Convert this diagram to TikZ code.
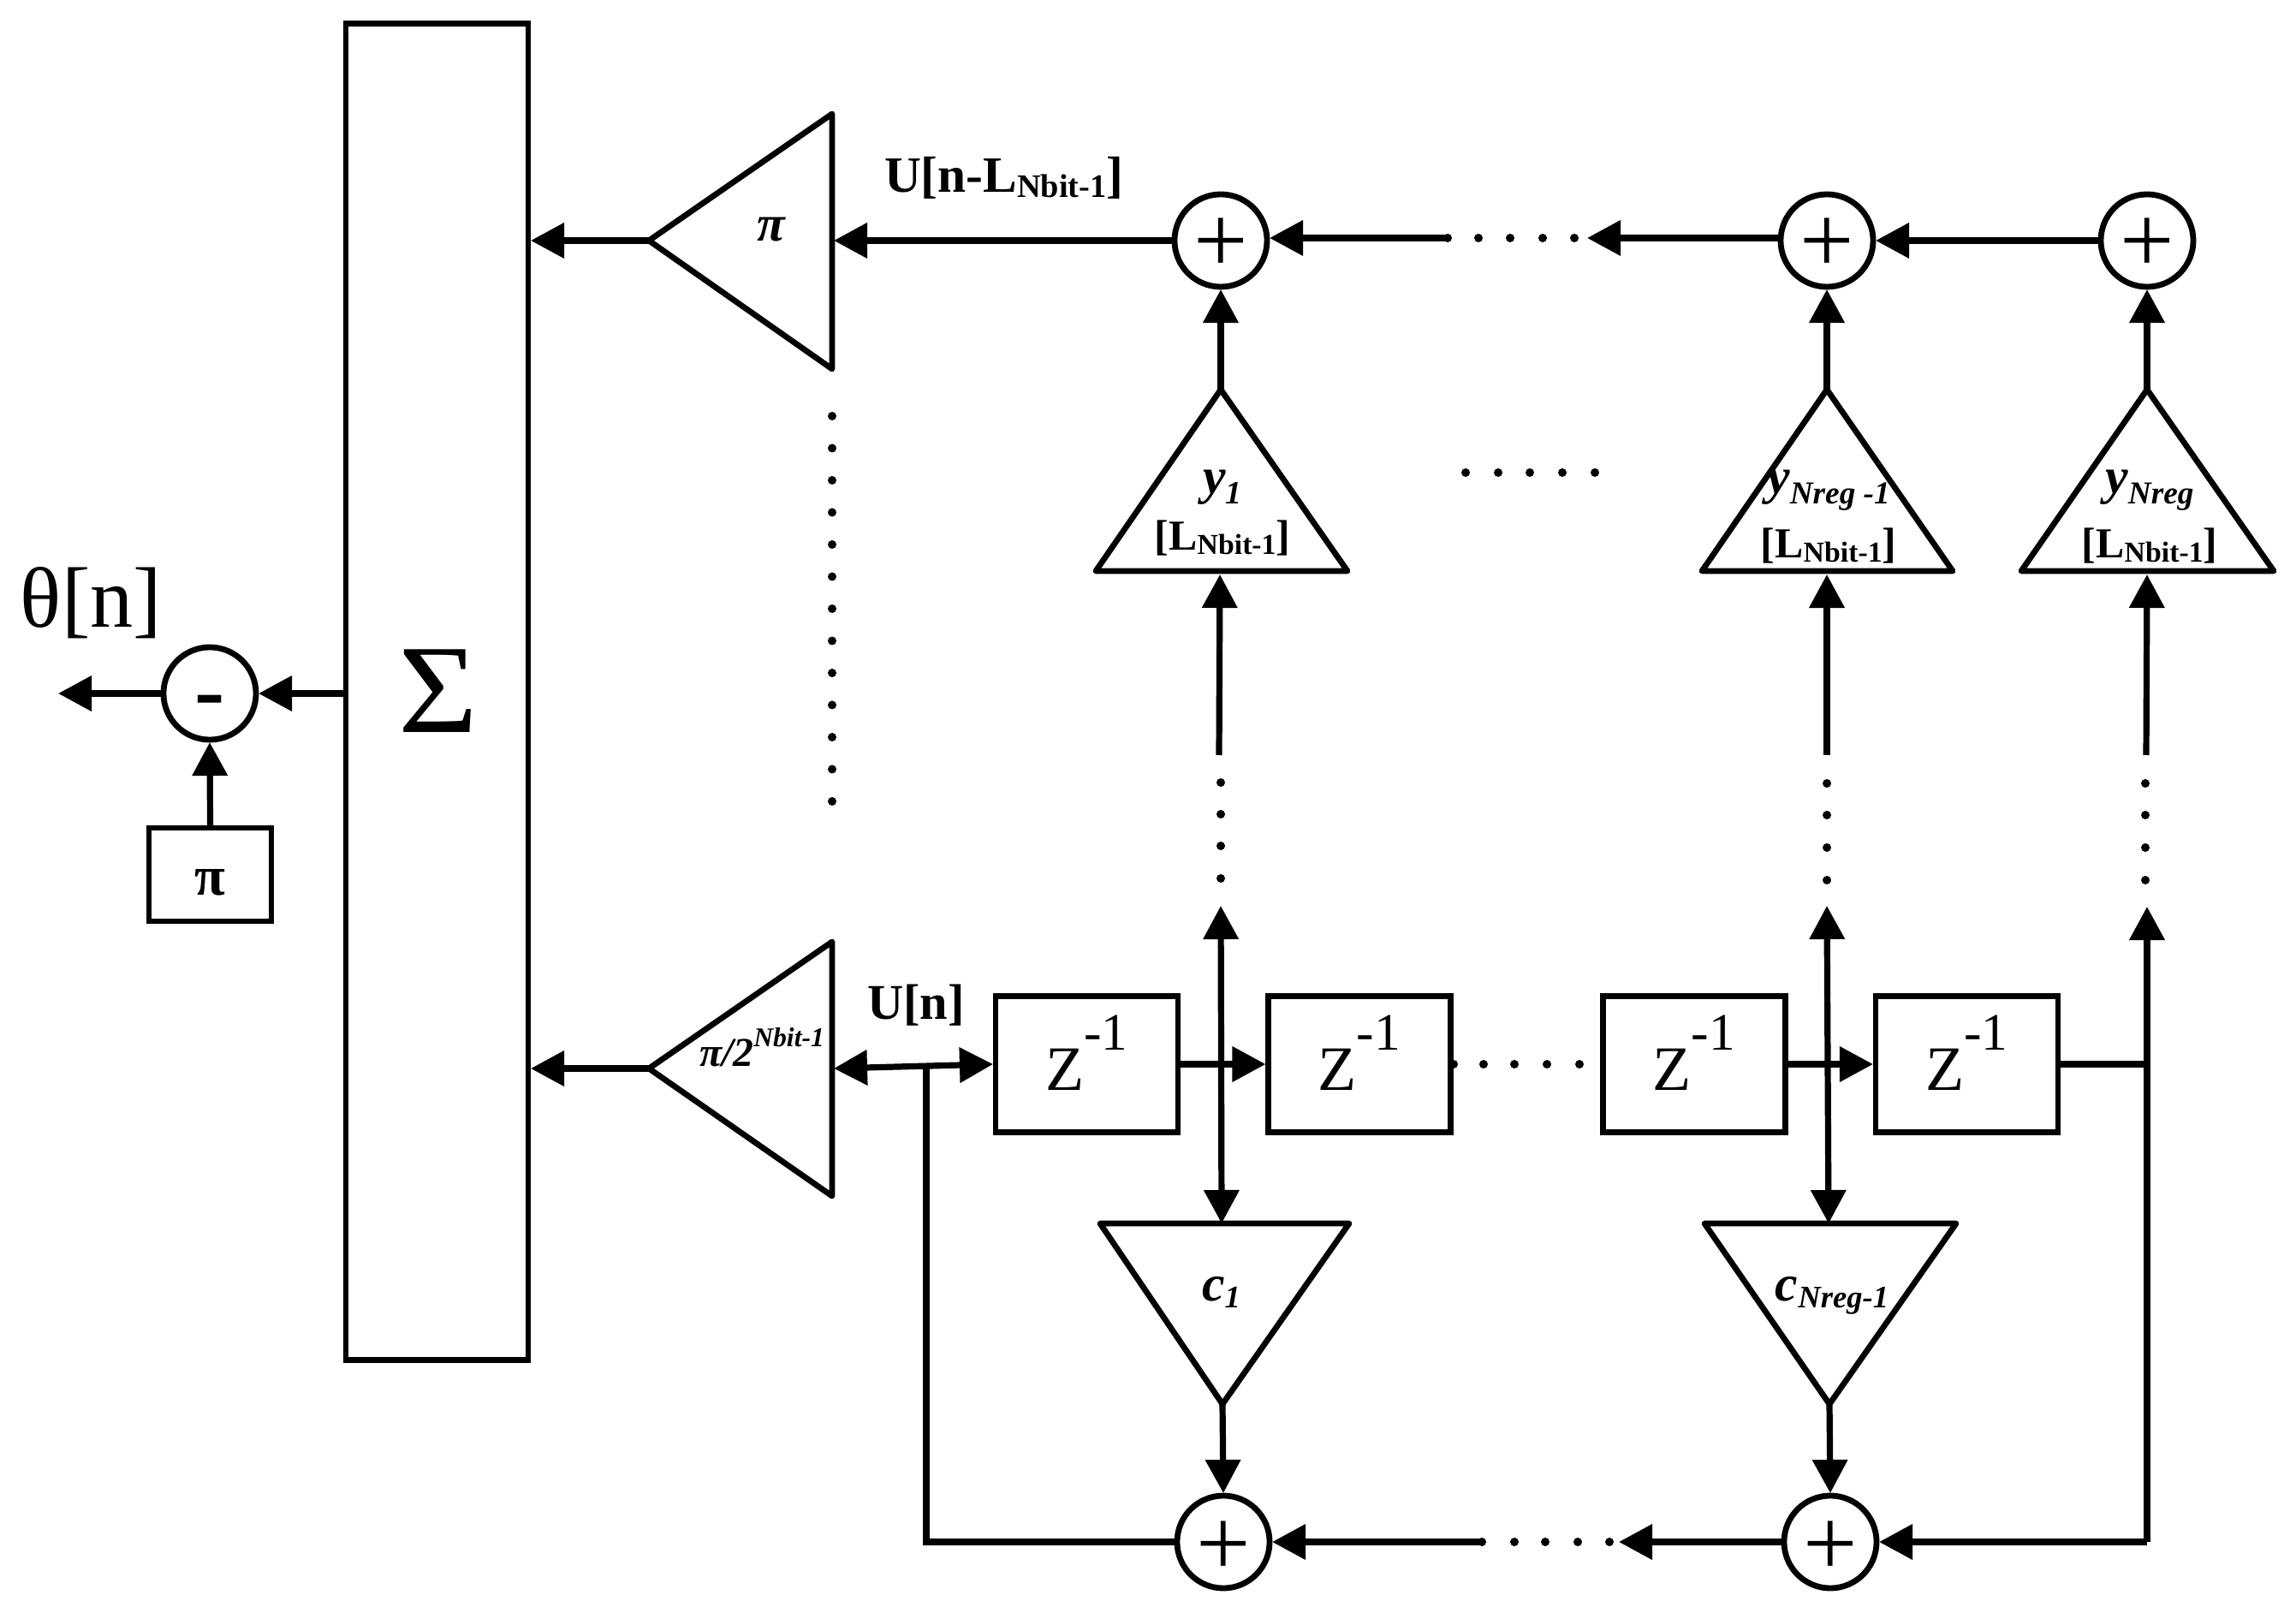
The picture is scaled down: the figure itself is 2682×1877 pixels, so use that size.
\documentclass[tikz,border=0pt]{standalone}
\usepackage{fontspec}
\setmainfont{Liberation Serif}
\usetikzlibrary{arrows.meta}
\newcommand{\fsz}[1]{\fontsize{#1}{#1}\selectfont}
\newcommand{\zlab}{\fsz{21}Z\raisebox{4.7mm}{\fsz{17.5}-1}}
\newcommand{\lnbit}{\bfseries\fsz{14.2}[L\raisebox{-.5mm}{\fsz{9.6}Nbit-1}]}
\tikzset{
  wire/.style={line width=.72mm},
  arr/.style={wire,-{Triangle[length=3.9mm,width=4mm]}},
  darr/.style={wire,{Triangle[length=3.9mm,width=4mm]}-{Triangle[length=3.9mm,width=4mm]}},
  shapeline/.style={line width=.68mm,line join=round},
  sumnode/.style={circle,draw,line width=.68mm,minimum size=10.8mm,inner sep=0,outer sep=.3mm,font=\fsz{32},text height=7.4mm,text depth=0mm},
  zbox/.style={rectangle,draw,line width=.68mm,minimum width=21.3mm,minimum height=15.9mm,inner sep=0,outer sep=.3mm,text height=9mm,text depth=2.9mm},
  lbl/.style={inner sep=0,outer sep=0},
  dotmark/.style={fill=black}
}
\begin{document}
\begin{tikzpicture}[x=.01cm,y=-.01cm]
\useasboundingbox (0,0) rectangle (2682,1877);
% large summing block
\node[rectangle,draw,line width=.68mm,minimum width=21.3mm,minimum height=156mm,inner sep=0,outer sep=.3mm,font=\fsz{42},text height=9.4mm,text depth=0mm] (sigma) at (510.5,808) {\hspace{.2mm}\scalebox{1.08}[1]{Σ}};
% minus junction and pi constant
\node[sumnode,font=\bfseries\fsz{30},text height=6.2mm] (minus) at (245,810) {-};
\node[rectangle,draw,line width=.68mm,minimum width=14.3mm,minimum height=10.9mm,inner sep=0,outer sep=.3mm,font=\bfseries\fsz{18.6},text height=4.7mm,text depth=0mm] (piconst) at (245.5,1021.5) {π};
\coordinate (theout) at (68,810);
\node[lbl,anchor=base west,font=\fsz{28.5}] (thetalab) at (24,733) {θ[n]};
% gain triangles towards the sum
\coordinate (ta) at (758,281); \coordinate (tb) at (972,133); \coordinate (tc) at (972,431); \coordinate (tin) at (974,281);
\coordinate (ba) at (758,1248); \coordinate (bb) at (972,1100); \coordinate (bc) at (972,1397); \coordinate (bin) at (974,1248);
\draw[shapeline] (ta) -- (tb) -- (tc) -- cycle;
\draw[shapeline] (ba) -- (bb) -- (bc) -- cycle;
\node[lbl,font=\bfseries\itshape\fsz{17}] (pilab) at (901,268) {π};
\node[lbl,anchor=base west,font=\bfseries\itshape\fsz{13.6}] (pilab2) at (817,1245) {π/2\raisebox{2.2mm}{\fsz{9}Nbit-1}};
% top row sums
\node[sumnode] (s1) at (1426,281) {+};
\node[sumnode] (s2) at (2134,281) {+};
\node[sumnode] (s3) at (2508,281) {+};
% y triangles
\coordinate (y1a) at (1426,455); \coordinate (y1l) at (1280,667); \coordinate (y1r) at (1574,667);
\coordinate (y2a) at (2134,455); \coordinate (y2l) at (1988,667); \coordinate (y2r) at (2281,667);
\coordinate (y3a) at (2508,455); \coordinate (y3l) at (2361,667); \coordinate (y3r) at (2656,667);
\draw[shapeline] (y1a) -- (y1l) -- (y1r) -- cycle;
\draw[shapeline] (y2a) -- (y2l) -- (y2r) -- cycle;
\draw[shapeline] (y3a) -- (y3l) -- (y3r) -- cycle;
\node[lbl,anchor=base,font=\bfseries\itshape\fsz{17}] (y1lab) at (1428,577) {y\raisebox{-1.2mm}{\fsz{10.8}1}};
\node[lbl,anchor=base,font=\bfseries\itshape\fsz{17}] (y2lab) at (2136,577) {y\raisebox{-1.2mm}{\fsz{10.6}Nreg -1}};
\node[lbl,anchor=base,font=\bfseries\itshape\fsz{17}] (y3lab) at (2511,577) {y\raisebox{-1.2mm}{\fsz{10.6}Nreg}};
\node[lbl,anchor=base] (l1lab) at (1428,643) {\lnbit};
\node[lbl,anchor=base] (l2lab) at (2136,652) {\lnbit};
\node[lbl,anchor=base] (l3lab) at (2511,652) {\lnbit};
% delay line
\node[zbox] (z1) at (1269.5,1243) {\zlab};
\node[zbox] (z2) at (1588,1243) {\zlab};
\node[zbox] (z3) at (1979,1243) {\zlab};
\node[zbox] (z4) at (2297.5,1243) {\zlab};
% c triangles
\coordinate (c1a) at (1428,1640); \coordinate (c1l) at (1285,1429); \coordinate (c1r) at (1576,1429); \coordinate (c1in) at (1427,1429);
\coordinate (c2a) at (2137,1640); \coordinate (c2l) at (1991,1429); \coordinate (c2r) at (2285,1429); \coordinate (c2in) at (2136,1429);
\draw[shapeline] (c1a) -- (c1l) -- (c1r) -- cycle;
\draw[shapeline] (c2a) -- (c2l) -- (c2r) -- cycle;
\node[lbl,anchor=base,font=\bfseries\itshape\fsz{17}] (c1lab) at (1426.5,1519) {c\raisebox{-.8mm}{\fsz{10.4}1}};
\node[lbl,anchor=base,font=\bfseries\itshape\fsz{17}] (c2lab) at (2140,1519) {c\raisebox{-.8mm}{\fsz{10.4}Nreg-1}};
% bottom sums
\node[sumnode,text height=7.8mm] (b1) at (1429,1801) {+};
\node[sumnode,text height=7.8mm] (b2) at (2138,1801) {+};
% signal labels
\node[lbl,anchor=base west,font=\bfseries\fsz{16.9}] (ulab) at (1033,225) {U[n-L\raisebox{-.6mm}{\fsz{10.9}Nbit-1}]};
\node[lbl,anchor=base west,font=\bfseries\fsz{16.6}] (unlab) at (1013,1190) {U[n]};
% helper coordinates
\coordinate (sigt) at (620,281); \coordinate (sigb) at (620,1248); \coordinate (sigm) at (404,810);
\coordinate (d1e) at (1691,278); \coordinate (d1s) at (1854,278);
\coordinate (d3e) at (1731,1801); \coordinate (d3s) at (1891,1801);
\coordinate (junc) at (1082,1245);
\coordinate (rj) at (2508,1243); \coordinate (rb) at (2508,1801); \coordinate (rt) at (2508,1059);
\coordinate (fb) at (1082,1801);
\coordinate (v1t) at (1426,1058); \coordinate (v2t) at (2134,1058);
\coordinate (u1s) at (1424,882); \coordinate (u2s) at (2134,882); \coordinate (u3s) at (2507,882);
\coordinate (u1e) at (1425,671); \coordinate (u2e) at (2134,671); \coordinate (u3e) at (2508,671);
% connectors, top
\draw[arr] (s1.west) -- (tin);
\draw[arr] (ta) -- (sigt);
\draw[arr] (ba) -- (sigb);
\draw[arr] (s3.west) -- (s2.east);
\draw[arr] (s2.west |- d1s) -- (d1s);
\draw[arr] (d1e) -- (s1.east |- d1e);
\draw[arr] (y1a) -- (s1.south);
\draw[arr] (y2a) -- (s2.south);
\draw[arr] (y3a) -- (s3.south);
\draw[arr] (u1s) -- (u1e);
\draw[arr] (u2s) -- (u2e);
\draw[arr] (u3s) -- (u3e);
% connectors, left
\draw[arr] (sigm) -- (minus.east);
\draw[arr] (minus.west) -- (theout);
\draw[arr] (piconst.north) -- (minus.south);
% connectors, delay line
\draw[darr] (bin) -- (z1.west);
\draw[arr] (z1.east) -- (z2.west);
\draw[arr] (z3.east) -- (z4.west);
\draw[wire] (z4.east) -- (rj);
\draw[darr] (v1t) -- (c1in);
\draw[darr] (v2t) -- (c2in);
\draw[arr] (rb) -- (rt);
% connectors, bottom
\draw[arr] (c1a) -- (b1.north);
\draw[arr] (c2a) -- (b2.north);
\draw[arr] (rb) -- (b2.east);
\draw[arr] (b2.west) -- (d3s);
\draw[arr] (d3e) -- (b1.east);
\draw[wire,line join=miter] (b1.west) -- (fb) -- (junc);
% dotted continuations
\foreach \yy in {486,523.5,561,598.5,636,673.5,711,748.5,786,823.5,861,898.5,936}
  \fill[dotmark] (972,\yy) circle (.5mm);
\foreach \xx in {1691,1727,1764,1802,1839}
  \fill[dotmark] (\xx,278) circle (.5mm);
\foreach \xx in {1712,1750,1787,1825,1863}
  \fill[dotmark] (\xx,552) circle (.5mm);
\foreach \xx in {1698,1733,1769,1807,1845}
  \fill[dotmark] (\xx,1243) circle (.5mm);
\foreach \xx in {1731,1769,1805,1843,1880}
  \fill[dotmark] (\xx,1801) circle (.5mm);
\foreach \yy in {914,951,988,1026}
  \fill[dotmark] (1426,\yy) circle (.5mm);
\foreach \yy in {915,952,990,1028}{
  \fill[dotmark] (2134,\yy) circle (.5mm);
  \fill[dotmark] (2506,\yy) circle (.5mm);
}
\end{tikzpicture}
\end{document}
